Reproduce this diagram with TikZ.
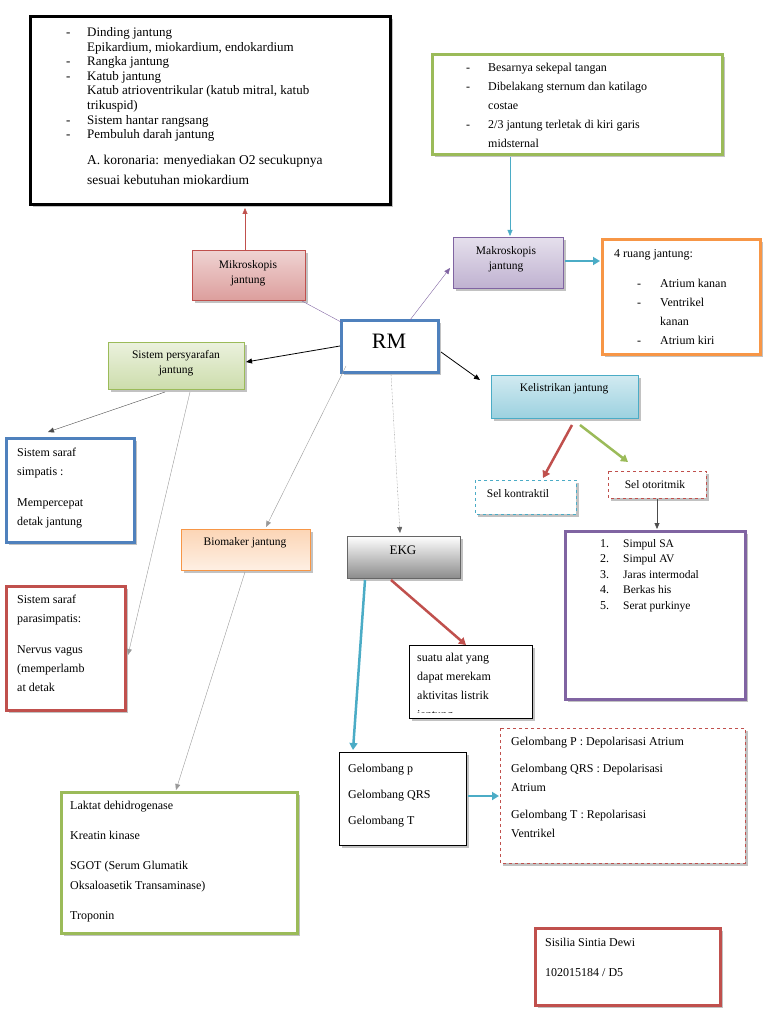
\documentclass[tikz,border=0pt]{standalone}
\usepackage{fontspec}
\setmainfont{Liberation Serif}
\usetikzlibrary{shadows,arrows.meta}
\definecolor{cblue}{HTML}{4F81BD}
\definecolor{cred}{HTML}{C0504D}
\definecolor{cgreen}{HTML}{9BBB59}
\definecolor{cpurple}{HTML}{8064A2}
\definecolor{corange}{HTML}{F79646}
\definecolor{ccyan}{HTML}{4BACC6}
\begin{document}
\begin{tikzpicture}[x=1pt,y=-1pt,
  sh/.style={drop shadow={shadow xshift=2.5pt,shadow yshift=-2.5pt,fill=black!40,opacity=0.6}},
  bx/.style={sh,inner sep=0pt,fill=white},
  t/.style={font=\fontsize{11}{13.5}\selectfont,align=left,anchor=north west,inner sep=0pt},
  ct/.style={font=\fontsize{11.5}{15}\selectfont,align=center,inner sep=0pt},
  ar/.style={-{Triangle[length=6pt,width=5pt]}},
  tk/.style={line width=2.5pt,-{Triangle[length=7pt,width=8pt]}}]
\useasboundingbox (0,0) rectangle (768,1024);
% boxes
\draw[black,bx,line width=3pt] (30,17) rectangle (390,205);
\draw[cgreen,bx,line width=3pt] (432,55) rectangle (722,155);
\shade[top color=cred!25,bottom color=cred!55,draw=cred,line width=1pt,sh] (192,250) rectangle (305,300);
\node[ct] (mik) at (248,273) {Mikroskopis\\jantung};
\shade[top color=cpurple!20,bottom color=cpurple!50,draw=cpurple,line width=1pt,sh] (453,237) rectangle (563,288);
\node[ct] (mak) at (506,259) {Makroskopis\\jantung};
\draw[corange,bx,line width=3pt] (602,239) rectangle (760,354);
\draw[cblue,bx,line width=3pt] (341,320) rectangle (438,372);
\node[font=\fontsize{22}{22}\selectfont] (rm) at (389,341) {RM};
\shade[top color=cgreen!20,bottom color=cgreen!50,draw=cgreen,line width=1pt,sh] (108,342) rectangle (244,389);
\node[ct] (sp) at (176,363) {Sistem persyarafan\\jantung};
\shade[top color=ccyan!25,bottom color=ccyan!55,draw=ccyan,line width=1pt,sh] (491,375) rectangle (638,418);
\node[ct] (kel) at (564,389) {Kelistrikan jantung};
\draw[cblue,bx,line width=3pt] (6,438) rectangle (134,542);
\draw[ccyan,bx,line width=1pt,dashed] (475,480) rectangle (576,514);
\node[ct] (kon) at (518,494) {Sel kontraktil};
\draw[cred,bx,line width=1pt,dashed] (608,471) rectangle (706,498);
\node[ct] (oto) at (655,485) {Sel otoritmik};
\shade[top color=corange!40,bottom color=corange!15,draw=corange,line width=1pt,sh] (181,529) rectangle (310,570);
\node[ct] (bio) at (245,543) {Biomaker jantung};
\shade[top color=white,bottom color=black!45,draw=black!60,line width=1pt,sh] (347,536) rectangle (460,578);
\node[ct,font=\fontsize{13}{15}\selectfont] (ekg) at (403,550) {EKG};
\draw[cpurple,bx,line width=3pt] (565,531) rectangle (745,699);
\draw[cred,bx,line width=3pt] (6,586) rectangle (125,710);
\draw[black,bx,line width=0.8pt] (409,645) rectangle (532,718);
\draw[black,bx,line width=0.8pt] (339,752) rectangle (466,845);
\draw[cred,bx,line width=1pt,dashed] (500,728) rectangle (745,863);
\draw[cgreen,bx,line width=3pt] (61,792) rectangle (297,933);
\draw[cred,bx,line width=3pt] (535,928) rectangle (720,1005);
% texts
\node[t,font=\fontsize{13}{14.6}\selectfont] at (66,26) {\strut-\\\\-\\-\\\\\\-\\-};
\node[t,font=\fontsize{13}{14.6}\selectfont] at (87,26) {\strut Dinding jantung\\Epikardium, miokardium, endokardium\\Rangka jantung\\Katub jantung\\Katub atrioventrikular (katub mitral, katub\\trikuspid)\\Sistem hantar rangsang\\Pembuluh darah jantung};
\node[t,font=\fontsize{13.5}{20}\selectfont] at (87,150) {\strut A. koronaria: menyediakan O2 secukupnya\\sesuai kebutuhan miokardium};
\node[t,font=\fontsize{12}{19}\selectfont] at (466,58) {\strut-\\-\\\\-};
\node[t,font=\fontsize{12}{19}\selectfont] at (488,58) {\strut Besarnya sekepal tangan\\Dibelakang sternum dan katilago\\costae\\2/3 jantung terletak di kiri garis\\midsternal};
\node[t,font=\fontsize{12}{19}\selectfont] at (614,244) {\strut 4 ruang jantung:};
\node[t,font=\fontsize{12}{19}\selectfont] at (637,274) {\strut-\\-\\\\-};
\node[t,font=\fontsize{12}{19}\selectfont] at (660,274) {\strut Atrium kanan\\Ventrikel\\kanan\\Atrium kiri};
\node[t,font=\fontsize{12}{19}\selectfont] at (17,443) {\strut Sistem saraf\\simpatis :\\[12pt]Mempercepat\\detak jantung};
\node[t,font=\fontsize{12}{19}\selectfont] at (17,590) {\strut Sistem saraf\\parasimpatis:\\[12pt]Nervus vagus\\(memperlamb\\at detak};
\node[t,font=\fontsize{12}{15.5}\selectfont] at (600,536) {\strut 1.\\2.\\3.\\4.\\5.};
\node[t,font=\fontsize{11.5}{15.5}\selectfont] at (623,536) {\strut Simpul SA\\Simpul AV\\Jaras intermodal\\Berkas his\\Serat purkinye};
\begin{scope}
\clip (410,646) rectangle (531,712);
\node[t,font=\fontsize{12}{19}\selectfont] at (417,648) {\strut suatu alat yang\\dapat merekam\\aktivitas listrik\\jantung};
\end{scope}
\node[t,font=\fontsize{12}{26}\selectfont] at (348,754) {\strut Gelombang p\\Gelombang QRS\\Gelombang T};
\node[t,font=\fontsize{12}{19}\selectfont] at (511,732) {\strut Gelombang P : Depolarisasi Atrium\\[8pt]Gelombang QRS : Depolarisasi\\Atrium\\[8pt]Gelombang T : Repolarisasi\\Ventrikel};
\node[t,font=\fontsize{12}{20}\selectfont] at (70,795) {\strut Laktat dehidrogenase\\[10pt]Kreatin kinase\\[10pt]SGOT (Serum Glumatik\\Oksaloasetik Transaminase)\\[10pt]Troponin};
\node[t,font=\fontsize{12}{20}\selectfont] at (545,932) {\strut Sisilia Sintia Dewi\\[10pt]102015184 / D5};
% coordinates
\coordinate (a1) at (245,250); \coordinate (a2) at (245,208);
\coordinate (b1) at (510,157); \coordinate (b2) at (510,236);
% connectors
\draw[cred,ar] (a1) -- (a2);
\draw[cpurple] (341,322) -- (302,301);
\draw[cpurple,ar] (410,320) -- (450,268);
\draw[ccyan,ar] (b1) -- (b2);
\draw[ccyan,tk] (565,261) -- (600,261);
\draw[ar,line width=0.8pt] (340,346) -- (246,362);
\draw[ar,line width=0.8pt] (441,352) -- (480,380);
\draw[black!70,ar] (165,392) -- (48,432);
\draw[black!40,ar] (190,392) -- (128,655);
\draw[black!40,ar] (346,366) -- (266,527);
\draw[black!60,densely dotted,ar] (391,374) -- (400,533);
\draw[cred,tk] (572,425) -- (543,478);
\draw[cgreen,tk] (580,425) -- (628,462);
\draw[black!70,ar] (657,499) -- (657,529);
\draw[black!40,ar] (245,572) -- (176,790);
\draw[ccyan,tk] (365,580) -- (353,750);
\draw[cred,tk] (391,580) -- (466,645);
\draw[ccyan,tk] (468,796) -- (499,796);
\end{tikzpicture}
\end{document}
